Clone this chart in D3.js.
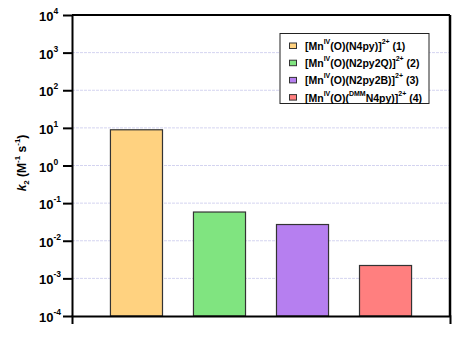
<!DOCTYPE html>
<html><head><meta charset="utf-8">
<script src="https://cdn.jsdelivr.net/npm/d3@7"></script>
<style>
body{margin:0;background:#fff;}
text{font-family:"Liberation Sans",Arial,sans-serif;font-weight:bold;}
</style></head>
<body><svg id="c" width="474" height="356"></svg>
<script>
const categories = ["1","2","3","4"];
const values = [8.9, 0.058, 0.027, 0.0022];
const colors = ["#FFD280","#80E480","#B67FF0","#FF7F7F"];
const tickExps = [-4,-3,-2,-1,0,1,2,3,4];
const legendParts = [
  [["[Mn",0],["IV",1],["(O)(N4py)]",0],["2+",1],[" (1)",0]],
  [["[Mn",0],["IV",1],["(O)(N2py2Q)]",0],["2+",1],[" (2)",0]],
  [["[Mn",0],["IV",1],["(O)(N2py2B)]",0],["2+",1],[" (3)",0]],
  [["[Mn",0],["IV",1],["(O)(",0],["DMM",1],["N4py)]",0],["2+",1],[" (4)",0]]
];

const svg = d3.select("#c");
const L=72,R=450,T=15,B=316;
const y = d3.scaleLog().domain([1e-4,1e4]).range([B,T]);
const x = d3.scaleBand().domain(categories).range([L,R]).paddingInner(0.373).paddingOuter(0.463);

// grid
svg.append("g").selectAll("line").data(tickExps.slice(1,-1)).join("line")
  .attr("x1",L).attr("x2",R).attr("y1",d=>y(Math.pow(10,d))).attr("y2",d=>y(Math.pow(10,d)))
  .attr("stroke","#D4D4F0").attr("stroke-width",1).attr("stroke-dasharray","3,1");

// bars
svg.append("g").selectAll("rect").data(values).join("rect")
  .attr("x",(d,i)=>x(categories[i])).attr("width",x.bandwidth())
  .attr("y",d=>y(d)).attr("height",d=>B-y(d))
  .attr("fill",(d,i)=>colors[i]).attr("stroke","#333").attr("stroke-width",1.2);

// axes
const yAxis = d3.axisLeft(y).tickValues(tickExps.map(e=>Math.pow(10,e))).tickSize(9).tickSizeOuter(0).tickFormat("");
const gy = svg.append("g").attr("transform",`translate(${L},0)`).call(yAxis);
gy.selectAll("path,line").attr("stroke","#000").attr("stroke-width",2);
gy.selectAll(".tick").each(function(d){
  const e = Math.round(Math.log10(d));
  const t = d3.select(this).append("text").attr("x",-33).attr("y",5.5).attr("text-anchor","start")
    .attr("fill","#000").style("font-size","13px");
  t.append("tspan").text("10");
  t.append("tspan").attr("dy",-7).style("font-size","8.5px").text(e);
});
const xAxis = d3.axisBottom(x).tickValues([]).tickSizeOuter(8);
const gx = svg.append("g").attr("transform",`translate(0,${B})`).call(xAxis);
gx.selectAll("path").attr("stroke","#000").attr("stroke-width",2);
svg.append("line").attr("x1",L).attr("x2",R).attr("y1",T).attr("y2",T).attr("stroke","#000").attr("stroke-width",2);
svg.append("line").attr("x1",R).attr("x2",R).attr("y1",T).attr("y2",B).attr("stroke","#000").attr("stroke-width",2.5);

// y label
const yl = svg.append("text").attr("transform","translate(26,163) rotate(-90)").attr("text-anchor","middle")
  .style("font-size","12px").attr("fill","#000");
yl.append("tspan").style("font-style","italic").text("k");
yl.append("tspan").attr("dy",3).style("font-size","8px").text("2");
yl.append("tspan").attr("dy",-3).text(" (M");
yl.append("tspan").attr("dy",-6).style("font-size","8px").text("-1");
yl.append("tspan").attr("dy",6).text(" s");
yl.append("tspan").attr("dy",-6).style("font-size","8px").text("-1");
yl.append("tspan").attr("dy",6).text(")");

// legend
const lg = svg.append("g");
lg.append("rect").attr("x",280).attr("y",33.5).attr("width",149).attr("height",70)
  .attr("fill","#fff").attr("stroke","#222").attr("stroke-width",1);
legendParts.forEach((parts,i)=>{
  const yy = 46 + i*17.2;
  lg.append("rect").attr("x",289.5).attr("y",yy-3).attr("width",7).attr("height",5.5)
    .attr("fill",colors[i]).attr("stroke","#333").attr("stroke-width",1);
  const t = lg.append("text").attr("x",305).attr("y",yy+4).style("font-size","10.5px").attr("fill","#000");
  let prev=0;
  parts.forEach(([s,sup])=>{
    const dy = sup && !prev ? -6 : (!sup && prev ? 6 : 0);
    t.append("tspan").attr("dy",dy).style("font-size",sup?"7px":"10.5px").text(s);
    prev=sup;
  });
});
</script></body></html>
